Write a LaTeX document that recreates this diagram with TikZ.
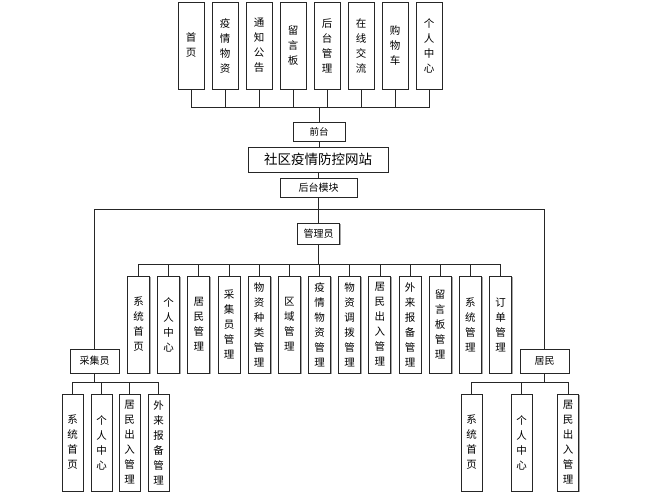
\documentclass[tikz,border=0pt]{standalone}
\usepackage{fontspec}
\newfontfamily\cjk{Noto Sans CJK SC}
\usetikzlibrary{shadows}
\tikzset{
 box/.style={draw=black!85, line width=0.9pt, fill=white, inner sep=0pt, align=center,
   font=\cjk\fontsize{10.5}{15}\selectfont,
   drop shadow={shadow xshift=1.3pt, shadow yshift=-1.3pt, fill=black!35, opacity=1}},
 topbox/.style={box, minimum width=26pt, minimum height=87pt},
 adbox/.style={box, minimum width=22pt, minimum height=97pt},
 botbox/.style={box, minimum width=21pt, minimum height=97pt},
 hbox/.style={box, font=\cjk\fontsize{10}{12}\selectfont},
 conn/.style={draw=black!85, line width=0.8pt},
}
\begin{document}
\begin{tikzpicture}[x=1pt,y=-1pt]
\useasboundingbox (0,0) rectangle (650,503);
% top row
\node[topbox] (t1) at (191,45.5) {首\\页};
\node[topbox] (t2) at (225,45.5) {疫\\情\\物\\资};
\node[topbox] (t3) at (259,45.5) {通\\知\\公\\告};
\node[topbox] (t4) at (293,45.5) {留\\言\\板};
\node[topbox] (t5) at (327,45.5) {后\\台\\管\\理};
\node[topbox] (t6) at (361,45.5) {在\\线\\交\\流};
\node[topbox] (t7) at (395,45.5) {购\\物\\车};
\node[topbox] (t8) at (429,45.5) {个\\人\\中\\心};
% middle
\node[hbox, minimum width=52pt, minimum height=19pt, font=\cjk\fontsize{9.5}{12}\selectfont] (qt) at (319,131.5) {前台};
\node[hbox, minimum width=140pt, minimum height=25pt, font=\cjk\fontsize{13.5}{16}\selectfont] (sq) at (318,159.5) {社区疫情防控网站};
\node[hbox, minimum width=77pt, minimum height=19pt] (ht) at (318.5,187.5) {后台模块};
\node[hbox, minimum width=42pt, minimum height=21pt] (gl) at (318.5,233.5) {管理员};
\node[hbox, minimum width=49pt, minimum height=24pt] (cj) at (94.5,361) {采集员};
\node[hbox, minimum width=49pt, minimum height=24pt] (jm) at (544.5,361) {居民};
% admin row
\node[adbox] (a1) at (138.5,324.5) {系\\统\\首\\页};
\node[adbox] (a2) at (168.7,324.5) {个\\人\\中\\心};
\node[adbox] (a3) at (198.8,324.5) {居\\民\\管\\理};
\node[adbox] (a4) at (229.0,324.5) {采\\集\\员\\管\\理};
\node[adbox] (a5) at (259.2,324.5) {物\\资\\种\\类\\管\\理};
\node[adbox] (a6) at (289.4,324.5) {区\\域\\管\\理};
\node[adbox] (a7) at (319.5,324.5) {疫\\情\\物\\资\\管\\理};
\node[adbox] (a8) at (349.7,324.5) {物\\资\\调\\拨\\管\\理};
\node[adbox] (a9) at (379.9,324.5) {居\\民\\出\\入\\管\\理};
\node[adbox] (a10) at (410.0,324.5) {外\\来\\报\\备\\管\\理};
\node[adbox] (a11) at (440.2,324.5) {留\\言\\板\\管\\理};
\node[adbox] (a12) at (470.4,324.5) {系\\统\\管\\理};
\node[adbox] (a13) at (500.5,324.5) {订\\单\\管\\理};
% collector row
\node[botbox] (c1) at (72.5,442.5) {系\\统\\首\\页};
\node[botbox] (c2) at (101.5,442.5) {个\\人\\中\\心};
\node[botbox] (c3) at (129.5,442.5) {居\\民\\出\\入\\管\\理};
\node[botbox] (c4) at (158.5,442.5) {外\\来\\报\\备\\管\\理};
% resident row
\node[botbox] (r1) at (471.5,442.5) {系\\统\\首\\页};
\node[botbox] (r2) at (521.5,442.5) {个\\人\\中\\心};
\node[botbox] (r3) at (568,442.5) {居\\民\\出\\入\\管\\理};
% connectors
\foreach \n in {t1,t2,t3,t4,t5,t6,t7,t8}
  \draw[conn] (\n.south) -- ++(0,18) -| (qt.north);
\draw[conn] (qt.south) -- (qt.south |- sq.north);
\draw[conn] (ht.north |- sq.south) -- (ht.north);
\draw[conn] (ht.south) -- (gl.north);
\draw[conn] (ht.south) -- ++(0,12) -| (cj.north);
\draw[conn] (ht.south) -- ++(0,12) -| (jm.north);
\foreach \n in {a1,a2,a3,a4,a5,a6,a7,a8,a9,a10,a11,a12,a13}
  \draw[conn] (gl.south) -- ++(0,20) -| (\n.north);
\foreach \n in {c1,c2,c3,c4}
  \draw[conn] (cj.south) -- ++(0,9) -| (\n.north);
\foreach \n in {r1,r2,r3}
  \draw[conn] (jm.south) -- ++(0,9) -| (\n.north);
\end{tikzpicture}
\end{document}
